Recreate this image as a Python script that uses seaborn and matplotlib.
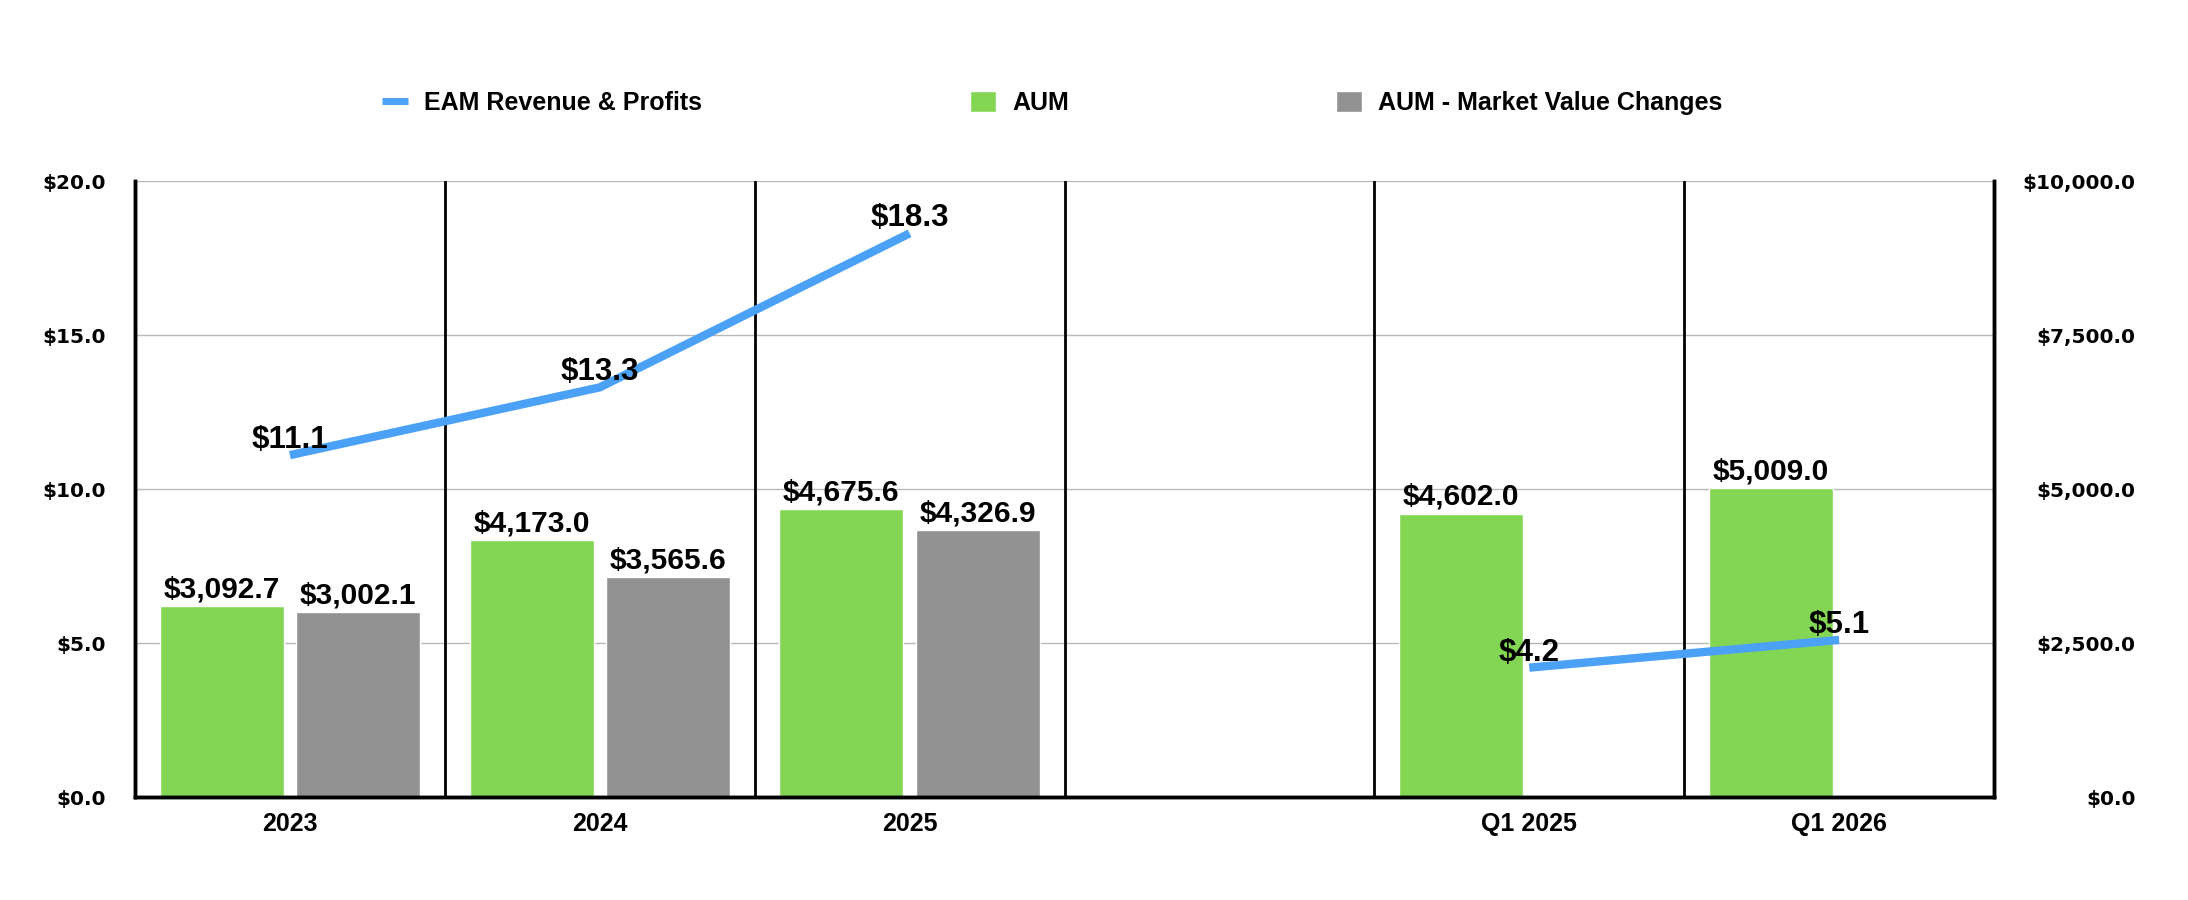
import numpy as np
import pandas as pd
import matplotlib
matplotlib.use("Agg")
import matplotlib.pyplot as plt
from matplotlib.lines import Line2D
from matplotlib.patches import Patch
from matplotlib.ticker import MultipleLocator, FuncFormatter
import seaborn as sns

# chart data
periods = ["2023", "2024", "2025", " ", "Q1 2025", "Q1 2026"]
aum = [3092.7, 4173.0, 4675.6, np.nan, 4602.0, 5009.0]
aum_market = [3002.1, 3565.6, 4326.9, np.nan, np.nan, np.nan]
revenue = [11.1, 13.3, 18.3, np.nan, 4.2, 5.1]
revenue_segment = ["annual", "annual", "annual", None, "quarter", "quarter"]

series_names = ["AUM", "AUM - Market Value Changes"]
line_name = "EAM Revenue & Profits"

GREEN = "#83d653"
GRAY = "#929292"
BLUE = "#4aa1f5"

sns.set_theme(style="white")
plt.rcParams["font.family"] = ["Liberation Sans", "DejaVu Sans"]
plt.rcParams["font.weight"] = "bold"
for key in ("text.color", "xtick.color", "ytick.color", "axes.labelcolor"):
    plt.rcParams[key] = "black"

# long table for the bars
bars_df = pd.DataFrame({
    "period": periods * 2,
    "series": [series_names[0]] * len(periods) + [series_names[1]] * len(periods),
    "value": aum + aum_market,
}).dropna(subset=["value"])

line_df = pd.DataFrame({
    "pos": np.arange(len(periods)),
    "revenue": revenue,
    "segment": revenue_segment,
}).dropna(subset=["revenue"])

fig, ax = plt.subplots(figsize=(21.88, 9), dpi=100)
fig.subplots_adjust(left=135 / 2188, right=1994 / 2188, bottom=1 - 797 / 900, top=1 - 181 / 900)

sns.barplot(data=bars_df, x="period", y="value", hue="series", order=periods,
            hue_order=series_names, palette=[GREEN, GRAY], width=0.88, gap=0.09,
            saturation=1, legend=False, ax=ax)

for cont in ax.containers:
    ax.bar_label(cont, fmt=lambda v: f"${v:,.1f}", padding=2, fontsize=21.5,
                 fontweight="bold", family="Liberation Sans", color="black")

ax.set_ylim(0, 10000)
ax.yaxis.set_major_locator(MultipleLocator(2500))
ax.yaxis.set_major_formatter(FuncFormatter(lambda v, p: f"${v:,.1f}"))
ax.grid(axis="y", color="#b8b8b8", lw=1)
ax.set_axisbelow(True)
ax.set_xlabel("")
ax.set_ylabel("")

# separators between the periods
for k in range(len(periods) - 1):
    ax.axvline(k + 0.5, color="black", lw=2, zorder=1)

ax2 = ax.twinx()
sns.lineplot(data=line_df, x="pos", y="revenue", units="segment", estimator=None,
             color=BLUE, lw=6, solid_capstyle="butt", legend=False, ax=ax2)
for _, r in line_df.iterrows():
    ax2.annotate(f"${r['revenue']:.1f}", (r["pos"], r["revenue"]), xytext=(0, 5),
                 textcoords="offset points", ha="center", va="baseline",
                 fontsize=22.5, fontweight="bold", family="Liberation Sans", color="black")
ax2.set_ylim(0, 20)
ax2.yaxis.set_major_locator(MultipleLocator(5))
ax2.yaxis.set_major_formatter(FuncFormatter(lambda v, p: f"${v:,.1f}"))
ax2.set_ylabel("")
ax2.set_xlabel("")
ax.set_xlim(-0.5, len(periods) - 0.5)

# swap sides: line scale on the left, bar scale on the right
ax2.yaxis.tick_left()
ax.yaxis.tick_right()

ax2.tick_params(axis="y", length=0, pad=21)
for t in ax2.get_yticklabels():
    t.set_family("DejaVu Sans")
    t.set_fontweight("bold")
    t.set_fontsize(14.5)

ax.tick_params(axis="y", length=0, pad=102)
for t in ax.get_yticklabels():
    t.set_family("DejaVu Sans")
    t.set_fontweight("bold")
    t.set_fontsize(14.5)
    t.set_horizontalalignment("right")

ax.tick_params(axis="x", length=0, pad=11)
for t in ax.get_xticklabels():
    t.set_fontweight("bold")
    t.set_fontsize(18)

for a in (ax, ax2):
    a.spines["top"].set_visible(False)
    for s in ("left", "right", "bottom"):
        a.spines[s].set_color("black")
        a.spines[s].set_linewidth(2.5)

handles = [
    Line2D([0], [0], color=BLUE, lw=5, solid_capstyle="butt"),
    Patch(facecolor=GREEN),
    Patch(facecolor=GRAY),
]
fig.legend(handles, [line_name] + series_names, loc="center", bbox_to_anchor=(0.481, 1 - 103 / 900),
           ncol=3, frameon=False, prop={"family": "Liberation Sans", "weight": "bold", "size": 18},
           columnspacing=10.7, handlelength=1.05, handleheight=0.9, handletextpad=0.64)

fig.savefig("out.png", dpi=100)
